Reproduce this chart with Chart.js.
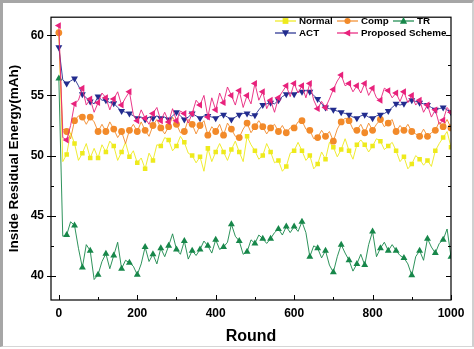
<!DOCTYPE html>
<html lang="en">
<head>
    <meta charset="UTF-8">
    <title>Inside Residual Energy</title>
    <script src="https://cdn.jsdelivr.net/npm/chart.js"></script>
    <style>
        body {
            margin: 0;
            background-color: #ffffff;
        }
        #frame {
            width: 469px;
            height: 343px;
            border-top: 3px solid #a6a6a6;
            border-left: 3px solid #a6a6a6;
            border-right: 2px solid #d0d0d0;
            border-bottom: 1px solid #d6d6d6;
            background-color: #ffffff;
        }
    </style>
</head>
<body>
    <div id="frame"><canvas id="chart" width="469" height="343"></canvas></div>

    <script>
        const rounds = [0,10,20,30,40,50,60,70,80,90,100,110,120,130,140,150,160,170,180,190,200,
            210,220,230,240,250,260,270,280,290,300,310,320,330,340,350,360,370,380,390,400,
            410,420,430,440,450,460,470,480,490,500,510,520,530,540,550,560,570,580,590,600,
            610,620,630,640,650,660,670,680,690,700,710,720,730,740,750,760,770,780,790,800,
            810,820,830,840,850,860,870,880,890,900,910,920,930,940,950,960,970,980,990,1000];

        const normal = [60.3,49.5,50.1,51.9,51.0,49.6,50.2,51.0,49.8,50.6,49.8,50.9,50.3,51.2,50.8,49.6,50.3,51.1,49.9,50.4,49.4,
            49.8,48.9,50.2,49.6,50.9,50.8,51.5,51.3,50.4,50.8,51.6,51.1,50.2,50.0,49.4,49.9,48.7,50.6,49.5,50.3,
            51.0,50.3,49.6,50.5,51.2,50.3,49.5,51.6,50.9,50.4,49.7,50.0,51.0,50.3,49.4,49.6,48.7,49.1,50.2,50.4,
            51.1,50.4,49.6,50.0,48.9,49.3,50.3,49.7,51.1,50.7,49.9,50.5,51.4,50.4,49.7,50.9,51.3,50.9,50.3,50.8,
            51.4,51.2,50.5,50.8,51.1,50.4,49.5,49.9,48.9,49.3,50.0,49.7,49.2,49.6,49.1,50.4,51.0,51.5,52.0,50.7];

        const comp = [60.2,52.2,52.0,51.4,52.9,53.3,53.2,52.6,53.2,52.8,52.0,52.6,52.0,52.8,52.2,51.5,52.0,51.0,52.1,52.6,52.0,
            52.8,52.1,51.6,52.5,53.0,52.3,51.8,52.4,53.2,52.6,51.9,52.0,53.0,52.6,51.8,52.5,52.9,51.7,52.4,52.0,
            52.6,51.7,52.7,52.2,51.6,51.5,52.2,52.7,51.9,52.4,52.9,52.4,51.8,52.3,52.6,52.0,52.5,51.9,52.3,52.3,
            52.8,52.9,52.2,52.1,51.4,51.5,52.1,51.6,52.0,51.2,52.2,52.8,53.1,52.9,52.2,52.1,52.6,51.9,52.7,52.1,
            52.6,53.0,52.4,52.7,53.0,52.0,52.5,52.1,52.6,52.0,51.8,51.6,52.2,51.6,51.9,52.1,52.8,52.4,53.0,52.3];

        const tr = [56.4,43.3,43.4,44.5,44.2,42.3,40.7,42.6,42.1,39.7,40.1,41.2,41.85,40.6,41.7,42.8,40.6,41.3,41.1,40.8,40.1,
            41.0,42.4,41.2,41.8,41.0,42.3,41.6,42.5,43.5,42.2,41.8,42.9,41.4,42.1,41.7,42.2,42.9,42.5,41.9,43.0,
            42.2,42.4,42.8,44.3,43.3,42.9,41.8,42.0,43.0,42.7,43.4,43.1,42.7,43.1,43.6,43.9,43.4,44.1,43.6,44.1,
            43.7,44.5,43.6,41.6,42.5,42.3,41.5,42.1,40.9,40.3,41.6,42.6,41.9,41.3,40.4,41.0,41.8,40.9,42.6,43.7,
            41.6,42.3,42.8,42.1,42.6,42.1,41.7,41.5,41.0,40.05,41.6,42.1,41.3,43.1,42.4,41.9,42.7,43.0,43.9,41.6];

        const act = [59.0,56.3,56.0,56.2,56.4,55.8,55.1,54.8,54.5,54.3,54.9,54.6,54.6,54.4,54.35,54.0,53.7,53.6,53.5,53.3,53.1,
            53.2,53.0,53.2,53.1,53.3,53.1,53.2,53.0,53.3,53.6,53.3,53.0,53.2,53.5,53.3,53.1,53.3,53.3,53.2,53.1,
            53.3,53.4,53.2,53.0,53.2,53.4,53.5,53.5,53.3,53.35,53.8,54.2,54.3,54.4,54.3,54.6,54.9,55.1,55.2,55.1,
            55.3,55.3,55.4,55.3,55.0,54.7,54.3,54.0,53.9,53.8,53.7,53.6,53.5,53.4,53.2,53.1,53.3,53.4,53.2,53.1,
            53.3,53.4,53.5,53.7,54.0,54.3,54.2,54.3,54.5,54.6,54.5,54.4,54.3,54.2,54.0,53.8,53.9,54.0,53.8,53.6];

        const proposed = [60.8,51.5,51.3,52.5,54.3,54.6,55.6,54.2,54.7,53.6,54.4,55.2,54.8,53.8,54.7,55.3,54.2,54.8,55.3,53.4,52.9,
            53.8,53.1,52.6,53.5,54.0,52.9,53.6,52.8,53.9,52.9,53.7,53.5,52.7,53.5,54.6,54.2,55.0,53.2,54.8,53.8,
            55.2,54.4,55.7,55.0,54.2,55.4,54.0,55.0,54.3,56.0,54.6,55.3,53.9,54.6,53.6,54.8,55.3,55.8,54.9,56.0,
            55.2,55.8,54.8,56.0,54.6,53.9,54.5,54.0,54.7,55.5,56.2,56.7,55.8,56.0,55.3,55.8,55.2,56.0,55.0,55.6,
            54.8,54.6,55.6,55.4,54.8,55.2,54.5,55.3,54.4,55.0,54.2,54.6,53.6,54.2,53.2,53.8,52.6,52.95,54.0,53.6];

        const xTicks = [0, 200, 400, 600, 800, 1000];
        const yTicks = [40, 45, 50, 55, 60];

        const series = [
            { label: 'Normal', values: normal, color: '#eeea1c', style: 'rect', rot: 0, r: 3.2, order: 4 },
            { label: 'Comp', values: comp, color: '#f28a2a', style: 'circle', rot: 0, r: 3.4, order: 3 },
            { label: 'TR', values: tr, color: '#17874a', style: 'triangle', rot: 0, r: 4, order: 2 },
            { label: 'ACT', values: act, color: '#222c8e', style: 'triangle', rot: 180, r: 4, order: 1 },
            { label: 'Proposed Scheme', values: proposed, color: '#e8227c', style: 'triangle', rot: -90, r: 4, order: 0 }
        ];

        // legend positions (canvas coords)
        const legendSpots = [[272, 18], [334, 18], [390, 18], [272, 30], [334, 30]];

        function marker(ctx, style, rot, x, y, r, color) {
            ctx.save();
            ctx.translate(x, y);
            ctx.rotate(rot * Math.PI / 180);
            ctx.fillStyle = color;
            ctx.beginPath();
            if (style === 'rect') {
                ctx.rect(-r, -r, 2 * r, 2 * r);
            } else if (style === 'circle') {
                ctx.arc(0, 0, r, 0, Math.PI * 2);
            } else {
                ctx.moveTo(0, -r * 1.1);
                ctx.lineTo(r, r * 0.75);
                ctx.lineTo(-r, r * 0.75);
                ctx.closePath();
            }
            ctx.fill();
            ctx.restore();
        }

        const framePlugin = {
            id: 'frame',
            afterDraw(chart) {
                const ctx = chart.ctx;
                const a = chart.chartArea;
                const xs = chart.scales.x, ys = chart.scales.y;
                ctx.save();
                ctx.strokeStyle = '#000';
                ctx.lineWidth = 1.2;
                ctx.strokeRect(a.left, a.top, a.right - a.left, a.bottom - a.top);
                ctx.lineWidth = 1;
                ctx.beginPath();
                for (let v = 0; v <= 1000; v += 100) {
                    const px = Math.round(xs.getPixelForValue(v)) + 0.5;
                    const len = v % 200 === 0 ? 5 : 3;
                    ctx.moveTo(px, a.bottom);
                    ctx.lineTo(px, a.bottom - len);
                }
                for (let v = 40; v <= 60; v += 2.5) {
                    const py = Math.round(ys.getPixelForValue(v)) + 0.5;
                    const major = v % 5 === 0;
                    ctx.moveTo(a.left - (major ? 4 : 0), py);
                    ctx.lineTo(a.left + (major ? 5 : 3), py);
                    ctx.moveTo(a.right, py);
                    ctx.lineTo(a.right - (major ? 5 : 3), py);
                }
                ctx.stroke();

                // legend
                ctx.font = 'bold 9.8px Arial, "Liberation Sans", sans-serif';
                ctx.textBaseline = 'middle';
                ctx.fillStyle = '#000';
                series.forEach((s, i) => {
                    const [lx, ly] = legendSpots[i];
                    ctx.strokeStyle = s.color;
                    ctx.lineWidth = 1.2;
                    ctx.beginPath();
                    ctx.moveTo(lx, ly);
                    ctx.lineTo(lx + 21, ly);
                    ctx.stroke();
                    marker(ctx, s.style, s.rot, lx + 10.5, ly, s.r * 0.9, s.color);
                    ctx.fillStyle = '#000';
                    ctx.fillText(s.label, lx + 24, ly + 0.5);
                });
                ctx.restore();
            }
        };

        const datasets = series.map(s => ({
            label: s.label,
            data: rounds.map((r, i) => ({ x: r, y: s.values[i] })),
            borderColor: s.color,
            backgroundColor: s.color,
            borderWidth: 0.9,
            pointStyle: s.style,
            pointRotation: s.rot,
            pointRadius: c => (c.dataIndex % 2 === 0 ? s.r : 0),
            pointBorderWidth: 0,
            tension: 0,
            order: s.order
        }));

        const tickFont = { family: 'Arial, "Liberation Sans", sans-serif', size: 12, weight: 'bold' };

        new Chart(document.getElementById('chart'), {
            type: 'line',
            data: { datasets: datasets },
            options: {
                responsive: false,
                animation: false,
                events: [],
                layout: { padding: { left: 0, top: 6, right: 21, bottom: 0 } },
                plugins: { legend: { display: false }, tooltip: { enabled: false } },
                scales: {
                    x: {
                        type: 'linear',
                        min: -20,
                        max: 1000,
                        grid: { display: false, tickLength: 0 },
                        border: { display: false },
                        afterBuildTicks: sc => { sc.ticks = xTicks.map(v => ({ value: v })); },
                        afterFit: sc => { sc.height = 46; },
                        ticks: { color: '#000', font: tickFont, padding: 6, maxRotation: 0, autoSkip: false,
                                 callback: v => String(v) },
                        title: {
                            display: true, text: 'Round', color: '#000',
                            font: { family: 'Arial, "Liberation Sans", sans-serif', size: 16, weight: 'bold' },
                            padding: { top: 4, bottom: 0 }
                        }
                    },
                    y: {
                        min: 38,
                        max: 61.5,
                        grid: { display: false, tickLength: 0 },
                        border: { display: false },
                        afterBuildTicks: sc => { sc.ticks = yTicks.map(v => ({ value: v })); },
                        afterFit: sc => { sc.width = 48; },
                        ticks: { color: '#000', font: tickFont, padding: 7, callback: v => String(v) },
                        title: {
                            display: true, text: 'Inside Residual Energy(mAh)', color: '#000',
                            font: { family: 'Arial, "Liberation Sans", sans-serif', size: 13.5, weight: 'bold' },
                            padding: { top: 3, bottom: 2 }
                        }
                    }
                }
            },
            plugins: [framePlugin]
        });
    </script>
</body>
</html>
